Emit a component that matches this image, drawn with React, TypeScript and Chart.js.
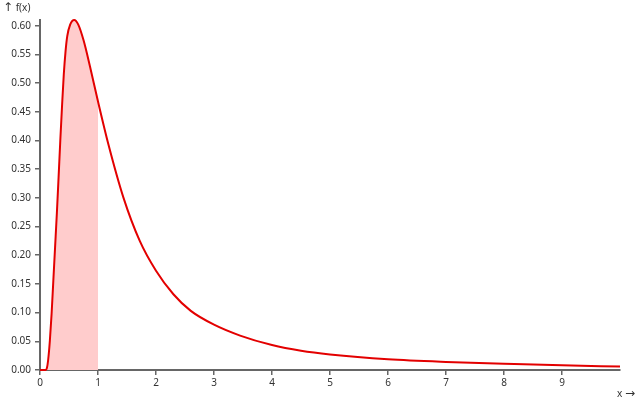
import { useEffect, useRef } from "react";
import { Chart, registerables, ChartConfiguration } from "chart.js";

Chart.register(...registerables);

const xValues: number[] = [
  0, 0.1, 0.12, 0.14, 0.17, 0.2, 0.23, 0.26, 0.29, 0.32, 0.35, 0.38, 0.41,
  0.44, 0.47, 0.52, 0.59, 0.66, 0.75, 0.86, 1.0, 1.18, 1.44, 1.72, 2.0, 2.3,
  2.6, 3.0, 3.45, 4.0, 4.5, 5.0, 6.0, 7.0, 8.0, 9.0, 10.0,
];
const densityValues: number[] = [
  0, 0, 0.004, 0.017, 0.051, 0.098, 0.156, 0.214, 0.272, 0.335, 0.4, 0.46,
  0.515, 0.555, 0.582, 0.602, 0.61, 0.602, 0.575, 0.53, 0.468, 0.393, 0.3,
  0.225, 0.173, 0.132, 0.103, 0.079, 0.06, 0.0435, 0.0335, 0.027, 0.0186,
  0.014, 0.011, 0.0082, 0.006,
];
const shadeUpTo = 1;
const xTicks: number[] = [0, 1, 2, 3, 4, 5, 6, 7, 8, 9];

const tickFont = { family: "'Noto Sans', sans-serif", size: 10 };

function App() {
  const canvasRef = useRef<HTMLCanvasElement | null>(null);

  useEffect(() => {
    if (!canvasRef.current) return;
    const curve = xValues.map((x, i) => ({ x, y: densityValues[i] }));
    const shaded = curve.filter((p) => p.x <= shadeUpTo);

    const config: ChartConfiguration<"line", { x: number; y: number }[]> = {
      type: "line",
      data: {
        datasets: [
          {
            data: curve,
            borderColor: "#e30000",
            borderWidth: 2,
            pointRadius: 0,
            fill: false,
            cubicInterpolationMode: "monotone",
            clip: false,
            order: 0,
          },
          {
            data: shaded,
            borderWidth: 0,
            borderColor: "rgba(0,0,0,0)",
            backgroundColor: "#ffcccc",
            pointRadius: 0,
            fill: "origin",
            cubicInterpolationMode: "monotone",
            order: 1,
          },
        ],
      },
      options: {
        animation: false,
        responsive: true,
        maintainAspectRatio: false,
        layout: { padding: { top: 20, right: 20, left: 0, bottom: 0 } },
        plugins: { legend: { display: false }, tooltip: { enabled: false } },
        scales: {
          x: {
            type: "linear",
            min: 0,
            max: 10,
            afterBuildTicks: (scale) => {
              scale.ticks = xTicks.map((v) => ({ value: v }));
            },
            afterFit: (scale) => {
              scale.height = 30;
            },
            ticks: {
              color: "#333",
              font: tickFont,
              padding: 2,
              maxRotation: 0,
              callback: (v) => String(v),
            },
            grid: {
              drawOnChartArea: false,
              drawTicks: true,
              tickLength: 5,
              color: "#666",
              lineWidth: 1.5,
            },
            border: { color: "#666", width: 2 },
          },
          y: {
            type: "linear",
            min: 0,
            max: 0.61,
            afterFit: (scale) => {
              scale.width = 40;
            },
            ticks: {
              stepSize: 0.05,
              includeBounds: false,
              color: "#333",
              font: tickFont,
              padding: 4,
              callback: (v) => Number(v).toFixed(2),
            },
            grid: {
              drawOnChartArea: false,
              drawTicks: true,
              tickLength: 5,
              color: "#666",
              lineWidth: 1.5,
            },
            border: { color: "#666", width: 2 },
          },
        },
      },
    };

    const chart = new Chart(canvasRef.current, config);
    return () => {
      chart.destroy();
    };
  }, []);

  const labelStyle: React.CSSProperties = {
    position: "absolute",
    fontFamily: "'Noto Sans', sans-serif",
    fontSize: 10,
    color: "#333",
    whiteSpace: "nowrap",
    lineHeight: "14px",
  };
  const arrowStyle: React.CSSProperties = {
    fontFamily: "'DejaVu Sans', sans-serif",
    fontSize: 12,
  };

  return (
    <div
      style={{
        position: "absolute",
        left: 0,
        top: 0,
        width: 640,
        height: 400,
        background: "#fff",
      }}
    >
      <canvas ref={canvasRef} />
      <div style={{ ...labelStyle, left: 3, top: 0 }}>
        <span style={arrowStyle}>↑</span> f(x)
      </div>
      <div style={{ ...labelStyle, left: 617, top: 386 }}>
        x <span style={arrowStyle}>→</span>
      </div>
    </div>
  );
}

export default App;
